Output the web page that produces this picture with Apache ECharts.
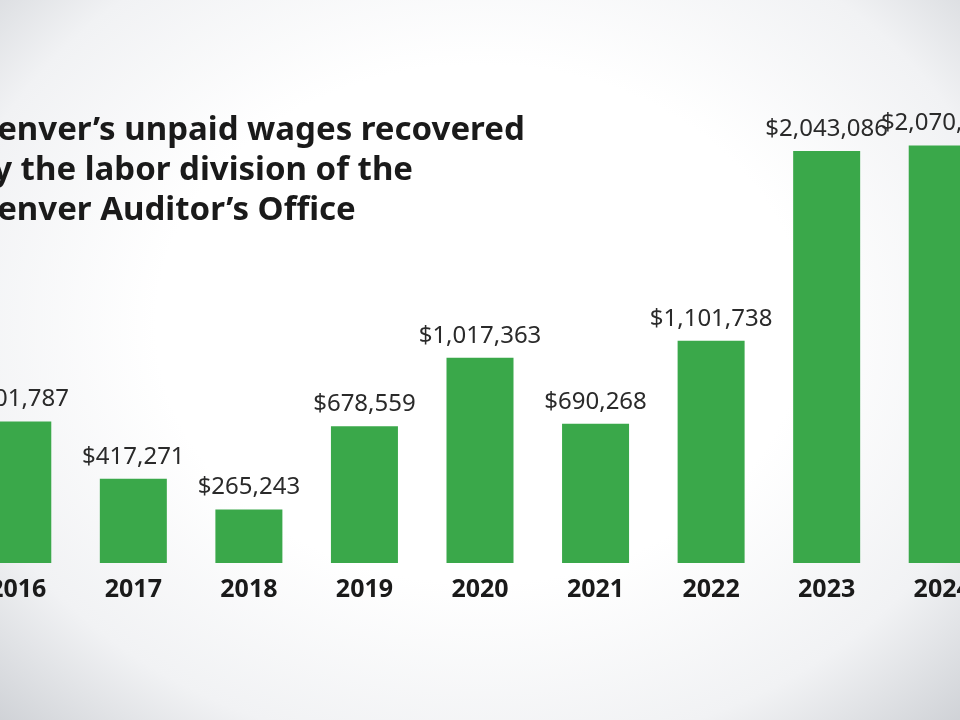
<!DOCTYPE html>
<html><head><meta charset="utf-8">
<script src="https://cdn.jsdelivr.net/npm/echarts@6/dist/echarts.min.js"></script>
<style>
html,body{margin:0;padding:0;width:960px;height:720px;overflow:hidden;position:relative;
background:radial-gradient(ellipse 75% 80% at 50% 45%, #ffffff 45%, #f1f2f4 75%, #c9ccd1 100%);}
#c{width:1040px;height:720px;position:absolute;left:-40px;top:0;}
</style></head><body><div id="c"></div>
<script>
const years = ['2016','2017','2018','2019','2020','2021','2022','2023','2024'];
const recovered = [701787,417271,265243,678559,1017363,690268,1101738,2043086,2070500];
const labels = ['$701,787','$417,271','$265,243','$678,559','$1,017,363','$690,268','$1,101,738','$2,043,086','$2,070,500'];
const titleText = "Denver\u2019s unpaid wages recovered\nby the labor division of the\nDenver Auditor\u2019s Office";
const chart = echarts.init(document.getElementById('c'));
chart.setOption({
  animation:false,
  title:{text:titleText,left:8,top:106,textStyle:{fontFamily:'Noto Sans',fontWeight:'bold',fontSize:33,lineHeight:40,color:'#1a1a1a'}},
  grid:{left:0,width:1040,top:100,bottom:157},
  xAxis:{type:'category',data:years,axisLine:{show:false},axisTick:{show:false},
    axisLabel:{margin:14,fontFamily:'Noto Sans',fontWeight:'bold',fontSize:25,color:'#1a1a1a'}},
  yAxis:{type:'value',min:0,max:2296000,show:false,splitLine:{show:false}},
  series:[{type:'bar',data:recovered,barWidth:67,itemStyle:{color:'#3aa84a'},
    label:{show:true,position:'top',distance:10,fontFamily:'Noto Sans',fontSize:24,color:'#2a2a2a',
      formatter:p=>labels[p.dataIndex]}}]
});
</script></body></html>
